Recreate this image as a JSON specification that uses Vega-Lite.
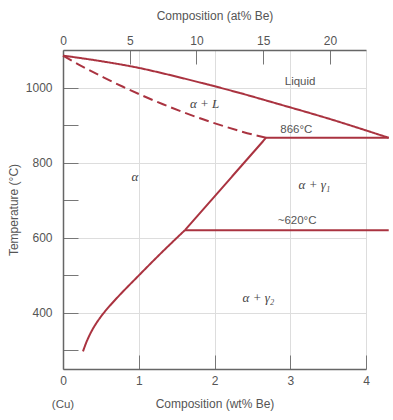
{
  "$schema": "https://vega.github.io/schema/vega-lite/v6.json",
  "width": 303,
  "height": 319,
  "autosize": {"type": "none"},
  "padding": {"left": 63, "top": 50, "right": 30, "bottom": 51},
  "config": {
    "view": {"stroke": null},
    "font": "Liberation Sans",
    "axis": {
      "domainColor": "#666666",
      "domainWidth": 1.5,
      "tickColor": "#777777",
      "tickWidth": 1,
      "labelColor": "#555555",
      "labelFont": "Liberation Sans",
      "labelFontSize": 12,
      "titleFont": "Liberation Sans",
      "titleFontSize": 12,
      "titleFontWeight": "normal",
      "titleColor": "#555555"
    }
  },
  "datasets": {
    "atpct": [{"at": 0}, {"at": 5}, {"at": 10}, {"at": 15}, {"at": 20}],
    "curves": [
      {"series": "liquidus", "style": "solid", "wt": 0, "T": 1085},
      {"series": "liquidus", "style": "solid", "wt": 0.488, "T": 1070.7},
      {"series": "liquidus", "style": "solid", "wt": 0.977, "T": 1053.3},
      {"series": "liquidus", "style": "solid", "wt": 1.413, "T": 1033.3},
      {"series": "liquidus", "style": "solid", "wt": 1.809, "T": 1013.3},
      {"series": "liquidus", "style": "solid", "wt": 2.337, "T": 985.3},
      {"series": "liquidus", "style": "solid", "wt": 2.799, "T": 958.7},
      {"series": "liquidus", "style": "solid", "wt": 3.525, "T": 916},
      {"series": "liquidus", "style": "solid", "wt": 4.3, "T": 866},
      {"series": "solidus", "style": "dashed", "wt": 0, "T": 1085},
      {"series": "solidus", "style": "dashed", "wt": 0.264, "T": 1055},
      {"series": "solidus", "style": "dashed", "wt": 0.528, "T": 1027.7},
      {"series": "solidus", "style": "dashed", "wt": 0.792, "T": 1002},
      {"series": "solidus", "style": "dashed", "wt": 1.056, "T": 977.9},
      {"series": "solidus", "style": "dashed", "wt": 1.32, "T": 955.4},
      {"series": "solidus", "style": "dashed", "wt": 1.584, "T": 934.6},
      {"series": "solidus", "style": "dashed", "wt": 1.848, "T": 915.3},
      {"series": "solidus", "style": "dashed", "wt": 2.112, "T": 897.7},
      {"series": "solidus", "style": "dashed", "wt": 2.376, "T": 881.7},
      {"series": "solidus", "style": "dashed", "wt": 2.68, "T": 866},
      {"series": "solvus_upper", "style": "solid", "wt": 1.61, "T": 620},
      {"series": "solvus_upper", "style": "solid", "wt": 2.68, "T": 866},
      {"series": "solvus_lower", "style": "solid", "wt": 0.264, "T": 297},
      {"series": "solvus_lower", "style": "solid", "wt": 0.304, "T": 319},
      {"series": "solvus_lower", "style": "solid", "wt": 0.343, "T": 337},
      {"series": "solvus_lower", "style": "solid", "wt": 0.396, "T": 357.6},
      {"series": "solvus_lower", "style": "solid", "wt": 0.462, "T": 378.7},
      {"series": "solvus_lower", "style": "solid", "wt": 0.528, "T": 396.8},
      {"series": "solvus_lower", "style": "solid", "wt": 0.634, "T": 422.1},
      {"series": "solvus_lower", "style": "solid", "wt": 0.766, "T": 450.9},
      {"series": "solvus_lower", "style": "solid", "wt": 0.977, "T": 494.4},
      {"series": "solvus_lower", "style": "solid", "wt": 1.294, "T": 558.7},
      {"series": "solvus_lower", "style": "solid", "wt": 1.61, "T": 620},
      {"series": "iso866", "style": "solid", "wt": 2.68, "T": 866},
      {"series": "iso866", "style": "solid", "wt": 4.3, "T": 866},
      {"series": "iso620", "style": "solid", "wt": 1.61, "T": 620},
      {"series": "iso620", "style": "solid", "wt": 4.3, "T": 620}
    ],
    "sanslabels": [
      {"wt": 3.13, "T": 1015, "label": "Liquid"},
      {"wt": 3.08, "T": 886, "label": "866°C"},
      {"wt": 3.09, "T": 645, "label": "~620°C"},
      {"wt": 0, "T": 153, "label": "(Cu)"}
    ],
    "phaselabels": [
      {"wt": 1.87, "T": 956, "label": "α + L"},
      {"wt": 0.95, "T": 762, "label": "α"},
      {"wt": 3.32, "T": 740, "label": "α + γ₁"},
      {"wt": 2.58, "T": 440, "label": "α + γ₂"}
    ]
  },
  "layer": [
    {
      "data": {"name": "atpct"},
      "mark": {"type": "tick", "opacity": 0},
      "encoding": {
        "x": {
          "field": "at",
          "type": "quantitative",
          "scale": {"domain": [0, 22.7], "nice": false, "zero": false},
          "axis": {
            "orient": "top",
            "title": "Composition (at% Be)",
            "values": [0, 5, 10, 15, 20],
            "format": "d",
            "tickSize": -14,
            "labelPadding": 17,
            "titlePadding": 12,
            "grid": false,
            "labelFlush": false
          }
        }
      }
    },
    {
      "layer": [
        {
          "data": {"name": "curves"},
          "mark": {"type": "line", "interpolate": "monotone", "strokeWidth": 2, "clip": false, "color": "#aa3340"},
          "encoding": {
            "x": {
              "field": "wt",
              "type": "quantitative",
              "scale": {"domain": [0, 4], "nice": false, "zero": false},
              "axis": {
                "orient": "bottom",
                "title": "Composition (wt% Be)",
                "values": [0, 1, 2, 3, 4],
                "format": "d",
                "tickSize": -14,
                "labelPadding": 20,
                "titlePadding": 12,
                "grid": true,
                "gridColor": "#dddddd",
                "labelFlush": false
              }
            },
            "y": {
              "field": "T",
              "type": "quantitative",
              "scale": {"domain": [250, 1100], "nice": false, "zero": false},
              "axis": {
                "title": "Temperature (°C)",
                "values": [300, 400, 500, 600, 700, 800, 900, 1000],
                "format": "d",
                "tickSize": -15,
                "labelPadding": 26,
                "titlePadding": 5,
                "labelExpr": "datum.value % 200 == 0 ? datum.label : ''",
                "grid": true,
                "gridColor": "#dddddd",
                "gridOpacity": {"condition": {"test": "datum.value % 200 == 0", "value": 1}, "value": 0}
              }
            },
            "detail": {"field": "series"},
            "strokeDash": {
              "field": "style",
              "type": "nominal",
              "scale": {"domain": ["solid", "dashed"], "range": [[1, 0], [10, 5]]},
              "legend": null
            },
            "order": {"field": "wt", "type": "quantitative"}
          }
        },
        {
          "data": {"name": "sanslabels"},
          "mark": {"type": "text", "font": "Liberation Sans", "fontSize": 11.5, "color": "#555555", "clip": false},
          "encoding": {
            "x": {"field": "wt", "type": "quantitative"},
            "y": {"field": "T", "type": "quantitative"},
            "text": {"field": "label"}
          }
        },
        {
          "data": {"name": "phaselabels"},
          "mark": {"type": "text", "font": "Liberation Serif", "fontStyle": "italic", "fontSize": 13, "color": "#444444", "clip": false},
          "encoding": {
            "x": {"field": "wt", "type": "quantitative"},
            "y": {"field": "T", "type": "quantitative"},
            "text": {"field": "label"}
          }
        }
      ]
    }
  ],
  "resolve": {"scale": {"x": "independent"}, "axis": {"x": "independent"}}
}
